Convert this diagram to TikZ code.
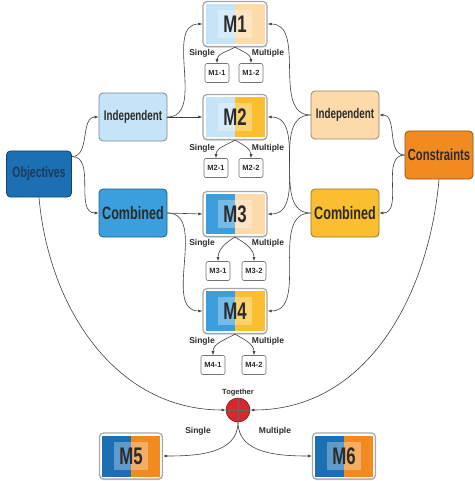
\documentclass[tikz,border=0pt]{standalone}
\usepackage{fontspec}
\setmainfont{Liberation Sans}
\newfontfamily\narrowfont[FakeStretch=0.7]{Liberation Sans}
\usetikzlibrary{arrows.meta,shadows}

\definecolor{lblue}{HTML}{C6E4F7}
\definecolor{mblue}{HTML}{3A9FDC}
\definecolor{dblue}{HTML}{1C6FB3}
\definecolor{lorange}{HTML}{FDDAAA}
\definecolor{yorange}{HTML}{FBBE31}
\definecolor{dorange}{HTML}{F08A21}
\definecolor{tred}{HTML}{D6282E}
\definecolor{ink}{HTML}{2B2B2B}
\definecolor{objink}{HTML}{1B3A5C}
\colorlet{mleft}{lblue}
\colorlet{mright}{lorange}

\tikzset{methodbox/.style={draw=black!35, line width=1.2pt, fill=white, rounded corners=4pt,
    minimum width=64pt, minimum height=45pt, inner sep=0pt,
    font=\narrowfont\bfseries\fontsize{24}{24}\selectfont, text=ink,
    drop shadow={shadow xshift=0pt, shadow yshift=-1.2pt, fill=black!35, opacity=.6},
    path picture={
        \fill[mleft, sharp corners] ([shift={(2.5pt,2.5pt)}]path picture bounding box.south west) rectangle ([yshift=-2.5pt]path picture bounding box.north);
        \fill[mright, sharp corners] ([shift={(-2.5pt,2.5pt)}]path picture bounding box.south east) rectangle ([yshift=-2.5pt]path picture bounding box.north);
        \fill[white, opacity=.3, sharp corners] ([shift={(-17pt,-14pt)}]path picture bounding box.center) rectangle ([shift={(17pt,14pt)}]path picture bounding box.center);
    }}}

\begin{document}
\begin{tikzpicture}[x=1pt,y=1pt]
\tikzstyle{cat}=[draw, rounded corners=4pt, line width=0.8pt, minimum width=68pt, minimum height=48pt, inner sep=0pt, font=\narrowfont\bfseries\fontsize{14}{14}\selectfont, text=ink]
\tikzstyle{sub}=[draw=black!55, line width=0.6pt, rounded corners=2pt, fill=white, minimum width=24pt, minimum height=19pt, inner sep=0pt, font=\bfseries\fontsize{7.5}{8}\selectfont, text=ink]
\tikzstyle{tag}=[inner sep=0pt, font=\bfseries\fontsize{8.5}{9}\selectfont, text=ink]
\tikzstyle{link}=[draw=black!75, line width=0.6pt, -{Latex[length=4pt,width=3pt]}]

\useasboundingbox (0,0) rectangle (474,-481);

% objectives and constraints
\node[cat, fill=dblue, draw=dblue!60!black, text=objink, minimum width=65pt, minimum height=46pt, font=\narrowfont\bfseries\fontsize{15}{15}\selectfont] (obj) at (39,-174) {Objectives};
\node[cat, fill=lblue, draw=lblue!60!black] (indO) at (133,-117) {Independent};
\node[cat, fill=mblue, draw=mblue!60!black, font=\narrowfont\bfseries\fontsize{18}{18}\selectfont] (comO) at (133,-213) {Combined};
\node[cat, fill=lorange, draw=lorange!60!black] (indC) at (345,-115) {Independent};
\node[cat, fill=yorange, draw=yorange!60!black, font=\narrowfont\bfseries\fontsize{18}{18}\selectfont] (comC) at (345,-213) {Combined};
\node[cat, fill=dorange, draw=dorange!60!black, font=\narrowfont\bfseries\fontsize{16}{16}\selectfont] (con) at (439,-155) {Constraints};

% methods
\foreach \i/\y/\l/\r in {1/24/lblue/lorange, 2/117/lblue/yorange, 3/214/mblue/lorange, 4/311/mblue/yorange}
{
    \colorlet{mleft}{\l}\colorlet{mright}{\r}
    \node[methodbox] (M\i) at (235,-\y) {M\i};
}
\foreach \i/\y/\a/\b in {1/73/217/251, 2/168/216/251, 3/271/218/254, 4/365/213/254}
{
    \node[sub] (M\i-1) at (\a,-\y) {M\i-1};
    \node[sub] (M\i-2) at (\b,-\y) {M\i-2};
    \draw[link] (M\i.south) to[out=-150,in=90] (M\i-1.north);
    \draw[link] (M\i.south) to[out=-30,in=90] (M\i-2.north);
}
\foreach \i/\y in {1/53, 2/148, 3/243, 4/341}
{
    \node[tag] (s\i) at (202,-\y) {Single};
    \node[tag] (m\i) at (268,-\y) {Multiple};
}

% together
\node[circle, draw=tred!60!black, fill=tred, minimum size=24pt, inner sep=0pt, line width=0.6pt,
    path picture={\draw[black!60, line width=0.5pt] (path picture bounding box.north) -- (path picture bounding box.south) (path picture bounding box.west) -- (path picture bounding box.east);},
    label={[tag, font=\bfseries\fontsize{7.5}{8}\selectfont, label distance=1.5pt]above:Together}] (tog) at (238,-410) {};
\colorlet{mleft}{dblue}\colorlet{mright}{dorange}
\foreach \i/\x in {5/131, 6/344}
    \node[methodbox, minimum width=63pt, minimum height=46pt] (M\i) at (\x,-456) {M\i};
\node[tag] (s5) at (198,-431) {Single};
\node[tag] (m5) at (275,-431) {Multiple};

% connectors
\draw[link] (obj.28) to[out=0,in=180] (indO.west);
\draw[link] (obj.28) to[out=0,in=180] (comO.west);
\draw[link] (indO.east) to[out=0,in=180] (M1.west);
\draw[link] (indO.east) -- (M2.west);
\draw[link] (comO.east) -- (M3.west);
\draw[link] (comO.east) to[out=0,in=180] (M4.west);
\draw[link] (con.west) to[out=180,in=0] (indC.east);
\draw[link] (con.west) to[out=180,in=0] (comC.east);
\draw[link] (indC.west) to[out=180,in=0] (M1.east);
\draw[link] (indC.west) to[out=180,in=0] (M3.east);
\draw[link] (comC.west) to[out=180,in=0] (M2.east);
\draw[link] (comC.west) to[out=180,in=0] (M4.east);
\draw[link] (obj.south) to[out=-85,in=180] (tog.west);
\draw[link] (con.south) to[out=-95,in=0] (tog.east);
\draw[link] (tog.south) to[out=-90,in=0] (M5.east);
\draw[link] (tog.south) to[out=-90,in=180] (M6.west);
\end{tikzpicture}
\end{document}
